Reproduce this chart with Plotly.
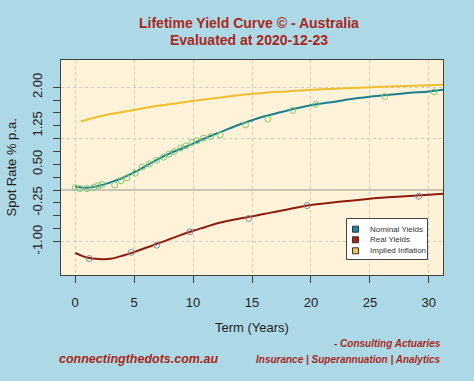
import plotly.graph_objects as go

# ---------------- data ----------------
curve_terms = [0, 1, 2, 3, 4, 5, 6, 7, 8, 9, 10, 11, 12, 13, 14, 15, 16, 17, 18, 20, 22, 24, 26, 28, 30, 31.2]
nominal_curve = [0.07, 0.045, 0.085, 0.15, 0.235, 0.345, 0.47, 0.60, 0.71, 0.805, 0.905, 1.005, 1.10, 1.19,
                 1.28, 1.36, 1.43, 1.49, 1.55, 1.65, 1.72, 1.79, 1.84, 1.885, 1.92, 1.95]
real_curve = [-1.22, -1.31, -1.34, -1.335, -1.275, -1.205, -1.12, -1.04, -0.955, -0.87, -0.79, -0.72, -0.65,
              -0.595, -0.55, -0.51, -0.465, -0.42, -0.375, -0.29, -0.235, -0.19, -0.15, -0.12, -0.09, -0.07]

infl_terms = [0.5, 1, 2, 3, 4, 5, 6, 7, 8, 10, 12, 14, 16, 18, 20, 22, 24, 26, 28, 30, 31.2]
infl_curve = [1.34, 1.37, 1.43, 1.48, 1.52, 1.56, 1.60, 1.64, 1.67, 1.735, 1.79, 1.85, 1.89, 1.92, 1.95,
              1.97, 1.99, 2.01, 2.025, 2.04, 2.05]

nominal_pt_terms = [0.0, 0.4, 1.0, 1.6, 1.95, 2.3, 3.35, 3.9, 4.4, 5.1, 5.7, 6.3, 6.9, 7.5, 7.95, 8.4, 8.95,
                    9.4, 9.9, 10.35, 10.9, 11.5, 12.3, 14.45, 16.35, 18.45, 20.4, 26.25, 30.45]
nominal_pt_vals = [0.05, 0.03, 0.03, 0.06, 0.09, 0.11, 0.10, 0.18, 0.24, 0.33, 0.45, 0.51, 0.58, 0.64, 0.70,
                   0.75, 0.82, 0.86, 0.93, 0.96, 1.01, 1.04, 1.07, 1.27, 1.38, 1.55, 1.67, 1.82, 1.91]

real_pt_terms = [1.2, 4.77, 6.92, 9.73, 14.72, 19.68, 29.14]
real_pt_vals = [-1.33, -1.21, -1.07, -0.81, -0.55, -0.30, -0.12]

x_ticks = [0, 5, 10, 15, 20, 25, 30]
y_ticks = [-1.0, -0.75, -0.5, -0.25, 0.0, 0.25, 0.5, 0.75, 1.0, 1.25, 1.5, 1.75, 2.0]
y_labels = ["-1.00", "", "", "-0.25", "", "", "0.50", "", "", "1.25", "", "", "2.00"]
y_grid = [-1, 1, 2]

legend_names = ["Nominal Yields", "Real Yields", "Implied Inflation"]
legend_colors = ["#1E86A8", "#A82410", "#EDC555"]

# ---------------- figure ----------------
NOM = "#1B7D90"
REAL = "#8E1C0E"
INF = "#F0BE2C"
TXT = "#A8281C"

W, H = 474, 381
L, R, T, B = 61, 31, 60, 106
PW, PH = W - L - R, H - T - B


def px_x(p):
    return (p - L) / PW


def px_y(p):
    return (H - B - p) / PH


fig = go.Figure()

fig.add_trace(go.Scatter(x=infl_terms, y=infl_curve, mode="lines", line=dict(color=INF, width=2, shape="spline"),
                         showlegend=False, hoverinfo="skip"))
fig.add_trace(go.Scatter(x=curve_terms, y=nominal_curve, mode="lines",
                         line=dict(color=NOM, width=2, shape="spline"), showlegend=False))
fig.add_trace(go.Scatter(x=nominal_pt_terms, y=nominal_pt_vals, mode="markers",
                         marker=dict(symbol="circle-open", size=6, color="#7CCB6E", line=dict(width=1)),
                         showlegend=False))
fig.add_trace(go.Scatter(x=curve_terms, y=real_curve, mode="lines",
                         line=dict(color=REAL, width=2, shape="spline"), showlegend=False))
fig.add_trace(go.Scatter(x=real_pt_terms, y=real_pt_vals, mode="markers",
                         marker=dict(symbol="circle-open", size=6, color="#7D8C9C", line=dict(width=1)),
                         showlegend=False))

axis_common = dict(showline=True, linecolor="#404040", linewidth=1, mirror=True,
                   ticks="outside", ticklen=7, tickcolor="#404040",
                   tickfont=dict(family="Liberation Sans, Arial", size=13, color="#222222"))

fig.update_layout(
    width=W, height=H,
    margin=dict(l=L, r=R, t=T, b=B),
    paper_bgcolor="#ADD8E6",
    plot_bgcolor="#FEF3D8",
    font=dict(family="Liberation Sans, Arial", color="#222222"),
    xaxis=dict(range=[-1.2, 31.2], tickmode="array", tickvals=x_ticks,
               showgrid=True, gridcolor="#CFCABC", griddash="dot", gridwidth=1, zeroline=False,
               ticklabelstandoff=8, **axis_common),
    yaxis=dict(range=[-1.65, 2.53], tickmode="array", tickvals=y_ticks, ticktext=y_labels,
               tickangle=-90, showgrid=False,
               zeroline=True, zerolinecolor="#C9C4B5", zerolinewidth=1.5,
               minor=dict(tickvals=y_grid, showgrid=True, gridcolor="#CFCABC", griddash="dot", ticks=""),
               ticklabelstandoff=6, **axis_common),
    showlegend=False,
)

# legend box (drawn as decoration)
fig.add_shape(type="rect", xref="paper", yref="paper", x0=px_x(346.5), x1=px_x(427.5),
              y0=px_y(259.5), y1=px_y(218.5), fillcolor="#FFFFFF", line=dict(color="#444444", width=1))
row_y = [229.2, 239.8, 250.8]
for name, col, ry in zip(legend_names, legend_colors, row_y):
    fig.add_shape(type="rect", xref="paper", yref="paper", x0=px_x(352.5), x1=px_x(358.5),
                  y0=px_y(ry + 3), y1=px_y(ry - 3), fillcolor=col, line=dict(color="#333333", width=1))
    fig.add_annotation(text=name, xref="paper", yref="paper", x=px_x(367.5), y=px_y(ry), showarrow=False,
                       xanchor="left", yanchor="middle", font=dict(size=8, color="#333333"))

anns = [
    dict(text="<b>Lifetime Yield Curve © - Australia</b>", x=0.492, y=px_y(23), size=14, anchor="center"),
    dict(text="<b>Evaluated at 2020-12-23</b>", x=0.492, y=px_y(40), size=14, anchor="center"),
    dict(text="<b><i>- Consulting Actuaries</i></b>", x=px_x(443), y=px_y(343), size=10, anchor="right"),
    dict(text="<b><i>Insurance | Superannuation | Analytics</i></b>", x=px_x(443), y=px_y(359), size=10, anchor="right"),
    dict(text="<b><i>connectingthedots.com.au</i></b>", x=px_x(138), y=px_y(359), size=12.5, anchor="center"),
]
for a in anns:
    fig.add_annotation(text=a["text"], xref="paper", yref="paper", x=a["x"], y=a["y"], showarrow=False,
                       xanchor=a["anchor"], yanchor="middle", font=dict(size=a["size"], color=TXT))

fig.add_annotation(text="Term (Years)", xref="paper", yref="paper", x=px_x(252), y=px_y(327), showarrow=False,
                   xanchor="center", yanchor="middle", font=dict(size=13, color="#222222"))
fig.add_annotation(text="Spot Rate % p.a.", xref="paper", yref="paper", x=px_x(11), y=0.5, showarrow=False,
                   textangle=-90, xanchor="center", yanchor="middle", font=dict(size=13, color="#222222"))

fig.write_html("out.html", config={"displayModeBar": False},
               post_script="document.body.style.margin='0';document.body.style.overflow='hidden';")
